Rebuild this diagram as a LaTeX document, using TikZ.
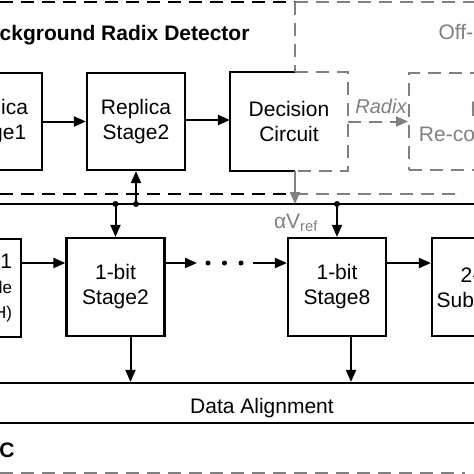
\documentclass[tikz,border=0pt]{standalone}
\usepackage{fontspec}
\setmainfont{Liberation Sans}
\usetikzlibrary{arrows.meta,calc}
\definecolor{gr}{RGB}{128,128,128}
\begin{document}
\begin{tikzpicture}[x=1pt,y=-1pt,
  blk/.style={draw,line width=2.2pt,minimum width=98pt,minimum height=97pt,inner sep=0pt,align=center,font=\fontsize{21}{25}\selectfont},
  gblk/.style={blk,draw=gr,text=gr,dash pattern=on 13pt off 8pt,line width=2pt},
  arr/.style={line width=2pt,-{Triangle[length=12pt,width=10pt]}},
  garr/.style={arr,draw=gr,fill=gr},
  dk/.style={line width=2pt,dash pattern=on 13pt off 8pt},
  gd/.style={dk,draw=gr},
  dot/.style={circle,fill,inner sep=0pt,minimum size=6pt},
  sdot/.style={circle,fill,inner sep=0pt,minimum size=5pt},
  lbl/.style={font=\fontsize{21}{25}\selectfont},
  blbl/.style={font=\fontsize{21}{25}\selectfont\bfseries},
  glbl/.style={font=\fontsize{21}{25}\selectfont,text=gr}]
\clip (0,0) rectangle (474,474);
% coordinates
\coordinate (tl) at (0,1.5);
\coordinate (ox) at (295,1.5);
\coordinate (tr) at (474,1.5);
\coordinate (bus) at (0,204);
\coordinate (busr) at (474,204);
\coordinate (dl) at (0,194);
\coordinate (dm) at (295,194);
\coordinate (dr) at (463,194);
\coordinate (row) at (0,263);
\coordinate (bl) at (0,473);
\coordinate (br) at (465,473);
% labels
\node[blbl,anchor=east] (brd) at (253,35) {Background Radix Detector};
\node[glbl,anchor=west] (off) at (435,34) {Off-chip};
\node[blbl,anchor=east] (adc) at (18,452) {Pipelined ADC};
% region borders
\draw[dk] (tl) -- (ox);
\draw[gd] (ox) -- (tr);
\draw[dk] (dl) -- (dm);
\draw[gd] (dm) -- (dr);
\draw[gd] (bl) -- (br);
\draw[line width=2pt] (bus) -- (busr);
% replica stages
\node[blk] (rs1) at (-7,121.5) {Replica\\Stage1};
\node[blk] (rs2) at (136,121.5) {Replica\\Stage2};
\node[blk,draw=none,minimum width=116pt] (dc) at (289,121.5) {Decision\\Circuit};
\draw[line width=2.2pt] (dc.north -| ox) -- (dc.north west) -- (dc.south west) -- (dc.south -| ox);
\draw[gd] (ox) -- (dc.north -| ox);
\draw[gd] (dc.north -| ox) -- (dc.north east) -- (dc.south east) -- (dc.south -| ox);
\node[gblk,minimum width=167pt] (drc) at (492.5,121.5) {Data\\Re-combination};
\draw[arr] (rs1) -- (rs2);
\draw[arr] (rs2.east |- 0,120) -- (dc.west |- 0,120);
\draw[garr,dash pattern=on 13pt off 8pt] (dc.east) -- (drc.west);
\node[glbl,font=\fontsize{20}{24}\selectfont\itshape] (rx) at (381,106) {Radix};
% stages
\node[blk,minimum height=98pt,text width=80pt,align=right] (s1) at (-28,288) {Stage1\\{\fontsize{17}{22}\selectfont (Include}\\{\fontsize{17}{21}\selectfont S/H)}};
\node[blk,minimum height=98pt] (s2) at (115.5,287) {1-bit\\Stage2};
\node[blk,minimum height=98pt] (s8) at (337,287) {1-bit\\Stage8};
\node[blk,minimum height=98pt] (sub) at (481,287) {2-bit\\Sub-ADC};
\node[blk,minimum width=560pt,minimum height=40pt,text height=20pt,text depth=0pt] (da) at (262,403) {Data Alignment};
% junctions
\node[dot] (j1) at (115.5,204) {};
\node[dot] (j2) at (136,204) {};
\node[dot] (j3) at (337,204) {};
\draw[arr] (j1.center) -- (s2.north);
\draw[arr] (j2.center) -- (rs2.south);
\draw[arr] (j3.center) -- (s8.north);
\draw[garr] (dc.south -| ox) -- (ox |- bus);
\node[glbl] (aref) at (296,223) {αV\textsubscript{ref}};
% row arrows
\coordinate (e1) at (197,263);
\coordinate (e2) at (253,263);
\node[sdot] (p1) at (208,263) {};
\node[sdot] (p2) at (224.5,263) {};
\node[sdot] (p3) at (241,263) {};
\draw[arr] (s1.east |- row) -- (s2.west |- row);
\draw[arr] (s2.east |- row) -- (e1);
\draw[arr] (e2) -- (s8.west |- row);
\draw[arr] (s8.east |- row) -- (sub.west |- row);
\draw[arr] ([xshift=15pt]s2.south) -- ([xshift=15pt]s2.south |- da.north);
\draw[arr] ([xshift=14pt]s8.south) -- ([xshift=14pt]s8.south |- da.north);
\end{tikzpicture}
\end{document}
